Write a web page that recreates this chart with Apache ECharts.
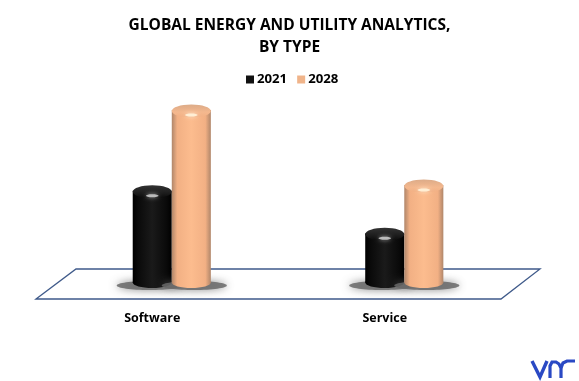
<!DOCTYPE html>
<html><head><meta charset="utf-8">
<style>html,body{margin:0;padding:0;background:#fff}#c{width:579px;height:381px}</style>
<script src="https://cdn.jsdelivr.net/npm/echarts@6/dist/echarts.min.js"></script>
</head><body><div id="c"></div>
<script>
const categories = ['Software', 'Service'];
const years = ['2021', '2028'];
const values2021 = [2.02, 1.16];
const values2028 = [3.66, 2.14];
const FONT = '"Open Sans", "Noto Sans", sans-serif';

const palette = [
  {base:'#0a0a0a', edge:'#000000', mid:'#1a1a1a', cap:'#1c1c1c', capTop:'#333333', hi:'rgba(200,200,200,0.9)'},
  {base:'#f2b084', edge:'#b0866a', mid:'#fcbc8e', cap:'#f4b88e', capTop:'#dcab88', hi:'rgba(255,240,215,0.95)'}
];

function cylinder(idx){
  return function(params, api){
    const p = api.coord([api.value(0), api.value(1)]);
    const base = api.coord([api.value(0), 0]);
    const band = api.size([1,0])[0];
    const w = band*0.168;
    const cx = p[0] + (idx === 0 ? 0 : w);
    const hw = w/2;
    const c = palette[idx];
    const grad = new echarts.graphic.LinearGradient(0,0,1,0,[
      {offset:0,color:c.edge},{offset:0.14,color:c.base},{offset:0.5,color:c.mid},
      {offset:0.86,color:c.base},{offset:1,color:c.edge}]);
    const capGrad = new echarts.graphic.LinearGradient(0,0,0,1,[
      {offset:0,color:c.capTop},{offset:0.6,color:c.cap},{offset:1,color:c.base}]);
    const ry = 5.5;
    return {type:'group', children:[
      {type:'ellipse', shape:{cx:cx+(idx===0?-3:3), cy:base[1]+0.5, rx:hw+13, ry:4.5},
       style:{fill:'rgba(105,105,105,0.85)', shadowBlur:8, shadowColor:'rgba(105,105,105,0.9)'}, z2:1},
      {type:'ellipse', shape:{cx:cx, cy:base[1]-2.5, rx:hw, ry:ry}, style:{fill:grad}, z2:2},
      {type:'rect', shape:{x:cx-hw, y:p[1]+ry, width:hw*2, height:base[1]-2.5-p[1]-ry}, style:{fill:grad}, z2:3},
      {type:'ellipse', shape:{cx:cx, cy:p[1]+ry+1, rx:hw, ry:ry+1}, style:{fill:capGrad}, z2:4},
      {type:'ellipse', shape:{cx:cx, cy:p[1]+ry+5, rx:hw*0.32, ry:1.5},
       style:{fill:c.hi, shadowBlur:4, shadowColor:c.hi}, z2:5}
    ]};
  };
}

const chart = echarts.init(document.getElementById('c'), null, {renderer:'canvas'});
chart.setOption({
  animation:false,
  backgroundColor:'#fff',
  title:{text:'GLOBAL ENERGY AND UTILITY ANALYTICS,\nBY TYPE', left:'center', top:10,
    textStyle:{fontFamily:FONT, fontWeight:'bold', fontSize:15.5, lineHeight:22, color:'#000'}},
  legend:{data:[{name:years[0],icon:'rect',itemStyle:{color:'#111'}},{name:years[1],icon:'rect',itemStyle:{color:'#f0b48a'}}],
    left:241, top:68, itemWidth:8, itemHeight:8, itemGap:10,
    textStyle:{fontFamily:FONT, fontWeight:'bold', fontSize:13.2, color:'#000', padding:[0,0,0,-2]}},
  grid:{left:36, width:465, top:63, bottom:96},
  xAxis:{type:'category', data:categories, axisLine:{show:false}, axisTick:{show:false}, splitLine:{show:false},
    axisLabel:{fontFamily:FONT, fontWeight:'bold', fontSize:12.5, color:'#000', margin:27}},
  yAxis:{type:'value', min:0, max:4.5, show:false},
  graphic:[
    {type:'polygon', z:-1, shape:{points:[[36,299],[76,269],[540,269],[501,299]]},
     style:{fill:'#fff', stroke:'#3f5a8a', lineWidth:1.3}},
    {type:'polyline', shape:{points:[[532,361],[540,377],[547,361]]},
     style:{stroke:'#2a49c4', lineWidth:3.4, fill:null}},
    {type:'polyline', shape:{points:[[550,378],[550,366],[552,362],[556,362],[559,364],[561,368],[561,378]]},
     style:{stroke:'#2a49c4', lineWidth:3.2, fill:null}},
    {type:'polyline', shape:{points:[[561,368],[563,363],[567,361],[575,361]]},
     style:{stroke:'#2a49c4', lineWidth:3.2, fill:null}}
  ],
  series:[
    {type:'custom', name:years[0], data:values2021.map((v,i)=>[i,v]), renderItem:cylinder(0), clip:false, itemStyle:{color:'#111'}, encode:{x:0,y:1}, z:3},
    {type:'custom', name:years[1], data:values2028.map((v,i)=>[i,v]), renderItem:cylinder(1), clip:false, itemStyle:{color:'#f0b48a'}, encode:{x:0,y:1}, z:4}
  ]
});
</script></body></html>
